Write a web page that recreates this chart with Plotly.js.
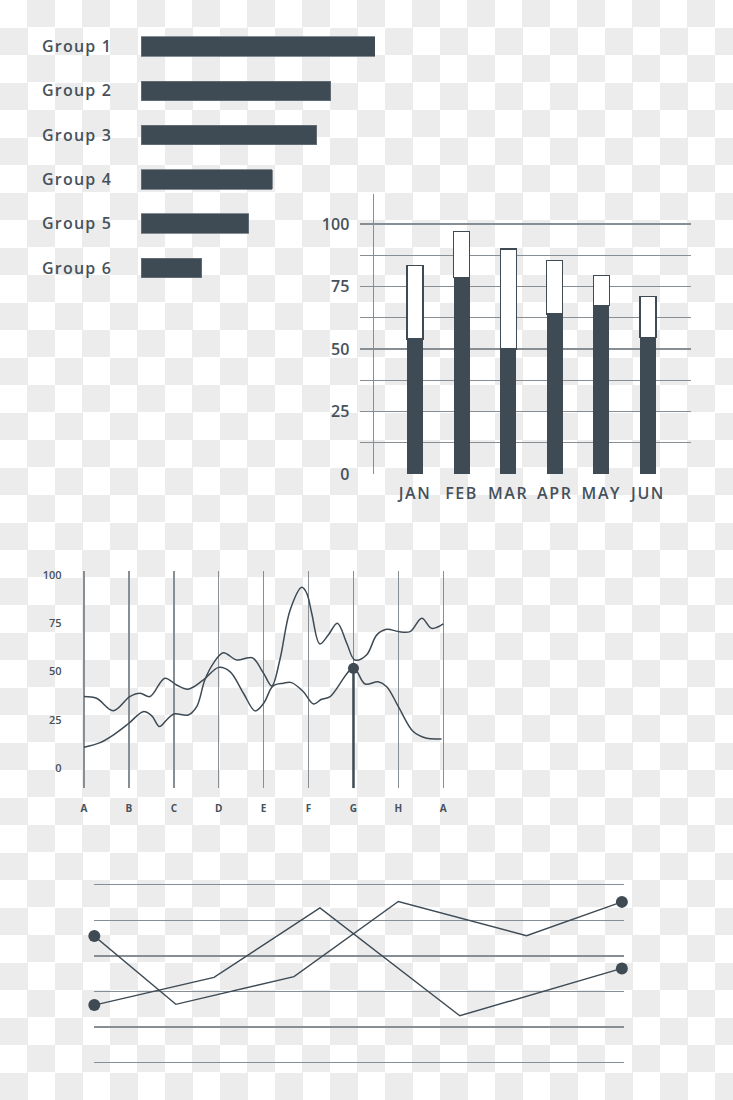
<!DOCTYPE html>
<html>
<head>
<meta charset="utf-8">
<script src="https://cdn.plot.ly/plotly-3.0.1.min.js"></script>
<style>
  html, body { margin: 0; padding: 0; }
  body {
    width: 733px; height: 1100px; overflow: hidden;
    background: repeating-conic-gradient(#ececec 0 25%, #ffffff 0 50%) 0 0 / 55px 55px;
  }
  #chart { width: 733px; height: 1100px; }
  .ytick text { letter-spacing: 1.2px; }
  .x2tick text { letter-spacing: 1.6px; }
</style>
</head>
<body>
<div id="chart"></div>
<script>
// ---------- Chart 1: horizontal bars ----------
const groups = ['Group 1', 'Group 2', 'Group 3', 'Group 4', 'Group 5', 'Group 6'];
const groupValues = [100, 81, 75, 56, 46, 26];

// ---------- Chart 2: stacked monthly bars ----------
const months = ['JAN', 'FEB', 'MAR', 'APR', 'MAY', 'JUN'];
const monthBase = [54, 78.5, 50, 64, 67.5, 54.5];
const monthExtra = [29.5, 18.5, 40, 21.5, 12, 16.5];
const monthTickVals = [0, 12.5, 25, 37.5, 50, 62.5, 75, 87.5, 100];
const monthTickText = ['0', '', '25', '', '50', '', '75', '', '100'];

// ---------- Chart 3: smooth curves ----------
const waveCats = ['A', 'B', 'C', 'D', 'E', 'F', 'G', 'H', 'A'];
const waveTickVals = [0, 25, 50, 75, 100];
const waveRange = [-10.35, 102.2];
const waveX1 = [0, 0.28, 0.65, 1.02, 1.25, 1.47, 1.80, 2.06, 2.32, 2.66, 3.0, 3.25, 3.55, 3.81, 4.0, 4.21, 4.44, 4.62, 4.88, 5.11, 5.29, 5.48, 6.0, 6.26, 6.55, 6.74, 7.0, 7.33, 7.63, 7.96];
const waveY1 = [37.1, 36.2, 29.8, 37.1, 38.8, 37.1, 46.6, 43.1, 40.9, 45.7, 52.2, 50, 38.8, 29.7, 33.6, 42.6, 44, 44.3, 39.7, 33.3, 35.7, 37.1, 51.7, 43.6, 44.8, 42.2, 31.9, 19.0, 15.5, 15.2];
const waveX2 = [0, 0.36, 0.65, 1.0, 1.32, 1.51, 1.68, 1.84, 2.0, 2.32, 2.51, 2.69, 2.88, 3.10, 3.40, 3.66, 3.77, 4.0, 4.18, 4.36, 4.59, 4.85, 4.96, 5.07, 5.25, 5.44, 5.64, 5.85, 6.03, 6.29, 6.52, 6.74, 7.0, 7.26, 7.52, 7.74, 8.0];
const waveY2 = [10.9, 13.3, 17.2, 23.3, 29.3, 27.1, 21.6, 25, 28.1, 27.6, 31.9, 45.7, 54.3, 59.8, 56, 57.2, 56.9, 49.1, 42.6, 56, 81.9, 93.6, 90.5, 80.2, 64.3, 69, 75, 64.7, 56, 58.6, 69, 71.9, 70.7, 70.7, 77.6, 72.4, 74.7];
const pinX = [6];
const pinY = [51.7];

// ---------- Chart 4: zigzag lines ----------
const zigGrid = [0, 1, 2, 3, 4, 5];
const zigX1 = [0, 15.4, 37.7, 57.4, 81.6, 99.6];
const zigY1 = [3.56, 1.64, 2.42, 4.53, 3.57, 4.52];
const zigX2 = [0, 22.6, 42.6, 69.0, 99.6];
const zigY2 = [1.62, 2.40, 4.35, 1.32, 2.65];

const DARK = '#3e4a54';
const TEXT = '#46515b';
const GRID = '#878e94';
const FONT = 'Open Sans, Inter, sans-serif';

const ends = arr => [arr[0], arr[arr.length - 1]];

const traces = [
  {
    type: 'bar', orientation: 'h', x: groupValues, y: groups,
    xaxis: 'x', yaxis: 'y', width: 0.44,
    marker: { color: DARK, line: { color: '#69737b', width: 0.8 } },
    hoverinfo: 'skip'
  },
  {
    type: 'bar', x: months.map((_, i) => i), y: monthBase,
    xaxis: 'x2', yaxis: 'y2', width: 0.34,
    marker: { color: DARK, line: { color: DARK, width: 0 } },
    hoverinfo: 'skip'
  },
  {
    type: 'bar', x: months.map((_, i) => i), y: monthExtra,
    xaxis: 'x2', yaxis: 'y2', width: 0.34,
    marker: { color: '#ffffff', line: { color: DARK, width: 1.2 } },
    hoverinfo: 'skip'
  },
  {
    type: 'scatter', mode: 'lines', x: waveX1, y: waveY1,
    xaxis: 'x3', yaxis: 'y3',
    line: { color: DARK, width: 1.5, shape: 'spline', smoothing: 1 },
    hoverinfo: 'skip'
  },
  {
    type: 'scatter', mode: 'lines', x: waveX2, y: waveY2,
    xaxis: 'x3', yaxis: 'y3',
    line: { color: DARK, width: 1.5, shape: 'spline', smoothing: 1 },
    hoverinfo: 'skip'
  },
  {
    type: 'scatter', mode: 'lines', x: [pinX[0], pinX[0]], y: [pinY[0], waveRange[0]],
    xaxis: 'x3', yaxis: 'y3',
    line: { color: DARK, width: 2.5 },
    hoverinfo: 'skip'
  },
  {
    type: 'scatter', mode: 'markers', x: pinX, y: pinY,
    xaxis: 'x3', yaxis: 'y3', cliponaxis: false,
    marker: { color: DARK, size: 11 },
    hoverinfo: 'skip'
  },
  {
    type: 'scatter', mode: 'lines', x: zigX1, y: zigY1,
    xaxis: 'x4', yaxis: 'y4', cliponaxis: false,
    line: { color: DARK, width: 1.4 },
    hoverinfo: 'skip'
  },
  {
    type: 'scatter', mode: 'lines', x: zigX2, y: zigY2,
    xaxis: 'x4', yaxis: 'y4', cliponaxis: false,
    line: { color: DARK, width: 1.4 },
    hoverinfo: 'skip'
  },
  {
    type: 'scatter', mode: 'markers', x: ends(zigX1).concat(ends(zigX2)), y: ends(zigY1).concat(ends(zigY2)),
    xaxis: 'x4', yaxis: 'y4', cliponaxis: false,
    marker: { color: DARK, size: 12, opacity: 1, line: { width: 0 } },
    hoverinfo: 'skip'
  }
];

const W = 733, H = 1100;
const px = v => v / W;
const py = v => 1 - v / H;

const layout = {
  width: W, height: H, autosize: false,
  margin: { l: 0, r: 0, t: 0, b: 0, pad: 0 },
  paper_bgcolor: 'rgba(0,0,0,0)',
  plot_bgcolor: 'rgba(0,0,0,0)',
  showlegend: false,
  barmode: 'stack',
  font: { family: FONT, color: TEXT },

  // chart 1
  xaxis: { domain: [px(141), px(375)], range: [0, 100], anchor: 'y', visible: false, fixedrange: true },
  yaxis: {
    domain: [py(290.15), py(24.35)], anchor: 'free', position: px(38), type: 'category',
    range: [5.5, -0.5], showgrid: false, zeroline: false, showline: false,
    ticks: '', ticklabelposition: 'inside', ticklabelstandoff: 0,
    tickfont: { family: FONT, size: 16, color: TEXT, weight: 600 }
  },

  // chart 2
  xaxis2: {
    domain: [px(360), px(691)], range: [-1.18, 5.923], anchor: 'y2',
    tickmode: 'array', tickvals: months.map((_, i) => i), ticktext: months,
    showgrid: false, zeroline: false, showline: false, ticks: '',
    ticklabelstandoff: 8,
    tickfont: { family: FONT, size: 16, color: TEXT, weight: 600 }
  },
  yaxis2: {
    domain: [py(474), py(193.5)], range: [0, 112.2], anchor: 'free', position: px(372.5),
    tickmode: 'array', tickvals: monthTickVals, ticktext: monthTickText,
    showgrid: true, gridcolor: GRID, gridwidth: 1.2,
    zeroline: false, showline: true, linecolor: GRID, linewidth: 1.2,
    ticks: '', ticklabelstandoff: 20,
    tickfont: { family: FONT, size: 16, color: TEXT, weight: 600 }
  },

  // chart 3
  xaxis3: {
    domain: [px(79.5), px(447.8)], range: [-0.1, 8.1], anchor: 'y3',
    tickmode: 'array', tickvals: waveCats.map((_, i) => i), ticktext: waveCats,
    showgrid: true, gridcolor: GRID, gridwidth: 1.5,
    zeroline: false, showline: false, ticks: '', ticklabelstandoff: 13,
    tickfont: { family: FONT, size: 10, color: TEXT, weight: 700 }
  },
  yaxis3: {
    domain: [py(788.3), py(570.7)], range: waveRange, anchor: 'x3',
    tickmode: 'array', tickvals: waveTickVals,
    showgrid: false, zeroline: false, showline: false, ticks: '', ticklabelstandoff: 17,
    tickfont: { family: FONT, size: 11, color: TEXT, weight: 600 }
  },

  // chart 4
  xaxis4: {
    domain: [px(94.3), px(624)], range: [0, 100], anchor: 'y4',
    showgrid: false, zeroline: false, showline: false, showticklabels: false, ticks: ''
  },
  yaxis4: {
    domain: [py(1068), py(880)], range: [-0.149, 5.135], anchor: 'x4',
    tickmode: 'array', tickvals: zigGrid,
    showgrid: true, gridcolor: GRID, gridwidth: 1.3,
    zeroline: false, showline: false, showticklabels: false, ticks: ''
  }
};

Plotly.newPlot('chart', traces, layout, { staticPlot: true, displayModeBar: false });
</script>
</body>
</html>
